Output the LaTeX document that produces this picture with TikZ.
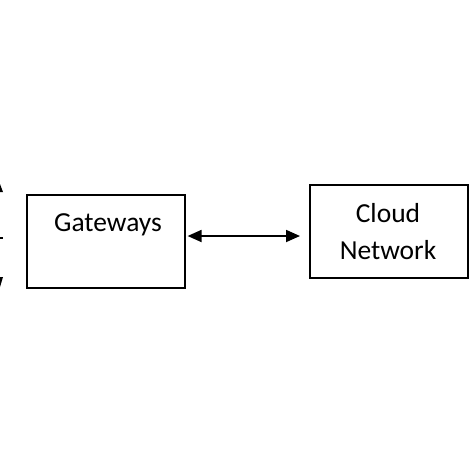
\documentclass[tikz,border=0pt]{standalone}
\usepackage{fontspec}
\setmainfont{Carlito}
\usetikzlibrary{arrows.meta}
\begin{document}
\begin{tikzpicture}[x=1pt,y=-1pt,
  blockbox/.style={draw=black,line width=1.6pt,minimum width=158pt,minimum height=93pt,inner sep=0pt},
  lbl/.style={align=center,font=\fontsize{27.5}{37}\selectfont},
  link/.style={line width=1.8pt,{Triangle[length=14pt,width=12pt]}-{Triangle[length=14pt,width=12pt]}}]
\useasboundingbox (0,0) rectangle (474,474);
\fill[white] (0,0) rectangle (474,474);
\node[blockbox,anchor=north west] (gw) at (26,194) {};
\node[lbl] (gwt) at (108,225) {Gateways};
\node[blockbox,anchor=north west] (cn) at (309,184) {};
\node[lbl] (cnt) at (388,232) {Cloud\\Network};
\draw[link] ([xshift=2pt]gw.east |- 0,236) coordinate (a) -- ([xshift=-9pt]cn.west |- 0,236) coordinate (b);
% partial fragments at the left edge
\coordinate (f1) at (0,184);
\fill (f1) -- (3,192) -- (0,192) -- cycle;
\coordinate (f2) at (0,238);
\draw[line width=1.6pt] (f2) -- (3,238);
\coordinate (f3) at (0,287);
\fill (f3) -- (3,277) -- (0,277) -- cycle;
\end{tikzpicture}
\end{document}
